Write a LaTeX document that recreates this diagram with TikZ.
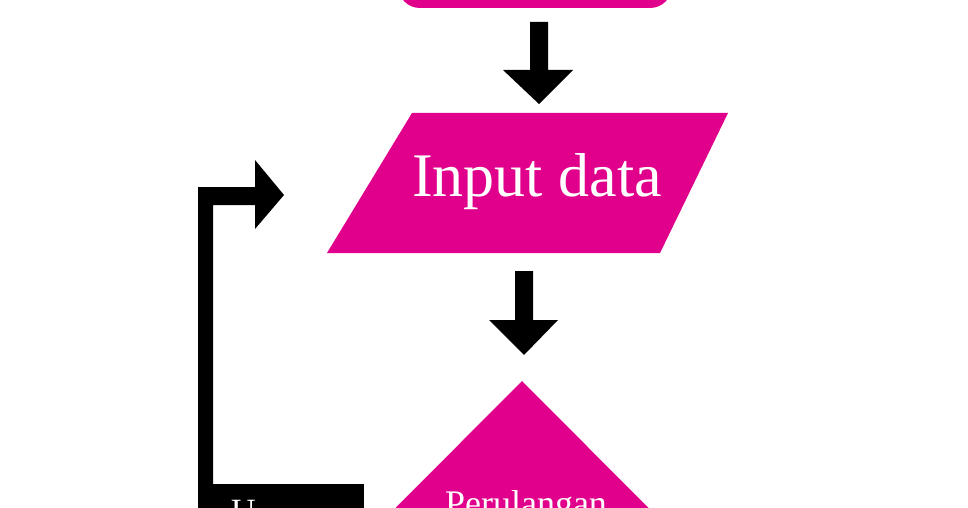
\documentclass[tikz,border=0pt]{standalone}
\usepackage{fontspec}
\setmainfont{Liberation Serif}
\definecolor{mag}{HTML}{E0008C}
\begin{document}
\begin{tikzpicture}[x=1pt,y=-1pt,
  shape/.style={fill=mag,draw=none},
  blk/.style={fill=black,draw=none},
  lbl/.style={text=white,inner sep=0pt}]
\useasboundingbox (0,0) rectangle (968,508);
\clip (0,0) rectangle (968,508);
% top terminator
\fill[mag,rounded corners=22pt] (398,-60) rectangle (672,8);
% arrow 1
\fill[black] (530,22) -- (548,22) -- (548,70) -- (573,70) -- (539,104) -- (503,70) -- (530,70) -- cycle;
% input parallelogram
\fill[mag] (412,113) -- (728,113) -- (660,253) -- (327,253) -- cycle;
\node[lbl,font=\fontsize{62}{62}\selectfont] (inp) at (537,182) {Input data};
% arrow 2
\fill[black] (515,271) -- (533,271) -- (533,320) -- (558,320) -- (524,355) -- (489,320) -- (515,320) -- cycle;
% decision diamond
\fill[mag] (522,381) -- (780,640) -- (522,900) -- (264,640) -- cycle;
\node[lbl,font=\fontsize{36}{36}\selectfont,anchor=base] (dec) at (526,515) {Perulangan};
% loop back connector
\fill[black] (198,600) -- (198,187) -- (255,187) -- (255,160) -- (284,195) -- (255,229) -- (255,205) -- (213,205) -- (213,600) -- cycle;
\fill[black] (198,484) rectangle (364,560);
\node[lbl,font=\fontsize{34}{34}\selectfont,anchor=base west] (u) at (231,522) {U};
\end{tikzpicture}
\end{document}
